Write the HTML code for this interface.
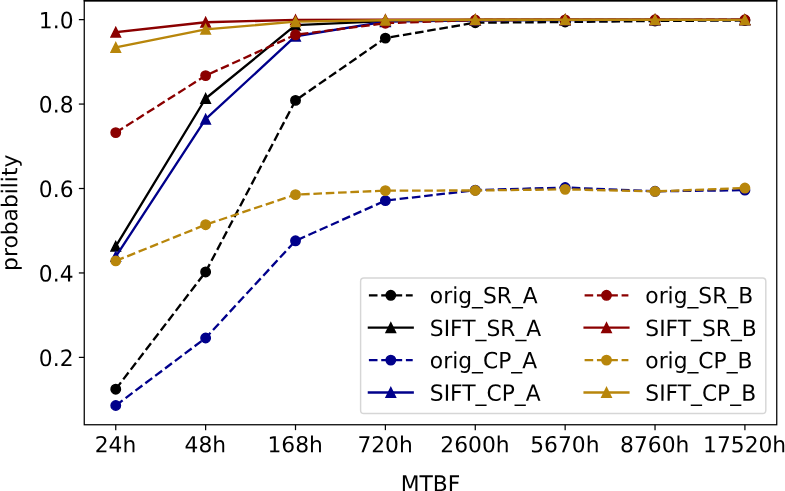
<!DOCTYPE html>
<html lang="en"><head><meta charset="utf-8"><title>MTBF probability chart</title>
<style>html,body{margin:0;padding:0;background:#fff}body{width:785px;height:491px;overflow:hidden}svg{display:block}text{font-family:"DejaVu Sans","Liberation Sans",sans-serif;font-size:21.8px;fill:#000}</style></head><body>
<svg width="785" height="491" viewBox="0 0 785 491">
<rect x="0" y="0" width="785" height="491" fill="#fff"/>
<defs><clipPath id="ax"><rect x="84.25" y="0.8" width="692.5" height="423.95"/></clipPath></defs>
<g clip-path="url(#ax)">
<path d="M115.75 389.19L205.63 271.97L295.51 100.39L385.39 38.09L475.27 22.68L565.15 22.01L655.03 20.95L744.91 20.44" fill="none" stroke="#000000" stroke-width="2.33" stroke-dasharray="8.605 3.725" stroke-linejoin="round" stroke-linecap="butt"/>
<circle cx="115.75" cy="389.19" r="4.67" fill="#000000" stroke="#000000" stroke-width="1.555"/>
<circle cx="205.63" cy="271.97" r="4.67" fill="#000000" stroke="#000000" stroke-width="1.555"/>
<circle cx="295.51" cy="100.39" r="4.67" fill="#000000" stroke="#000000" stroke-width="1.555"/>
<circle cx="385.39" cy="38.09" r="4.67" fill="#000000" stroke="#000000" stroke-width="1.555"/>
<circle cx="475.27" cy="22.68" r="4.67" fill="#000000" stroke="#000000" stroke-width="1.555"/>
<circle cx="565.15" cy="22.01" r="4.67" fill="#000000" stroke="#000000" stroke-width="1.555"/>
<circle cx="655.03" cy="20.95" r="4.67" fill="#000000" stroke="#000000" stroke-width="1.555"/>
<circle cx="744.91" cy="20.44" r="4.67" fill="#000000" stroke="#000000" stroke-width="1.555"/>
<path d="M115.75 246.39L205.63 98.49L295.51 25.21L385.39 21.08L475.27 20.02L565.15 19.90L655.03 19.85L744.91 19.81" fill="none" stroke="#000000" stroke-width="2.33" stroke-linejoin="round" stroke-linecap="square"/>
<path d="M115.75 241.72L111.08 251.06L120.42 251.06Z" fill="#000000" stroke="#000000" stroke-width="1.555" stroke-linejoin="miter"/>
<path d="M205.63 93.82L200.96 103.16L210.30 103.16Z" fill="#000000" stroke="#000000" stroke-width="1.555" stroke-linejoin="miter"/>
<path d="M295.51 20.54L290.84 29.88L300.18 29.88Z" fill="#000000" stroke="#000000" stroke-width="1.555" stroke-linejoin="miter"/>
<path d="M385.39 16.41L380.72 25.75L390.06 25.75Z" fill="#000000" stroke="#000000" stroke-width="1.555" stroke-linejoin="miter"/>
<path d="M475.27 15.35L470.60 24.69L479.94 24.69Z" fill="#000000" stroke="#000000" stroke-width="1.555" stroke-linejoin="miter"/>
<path d="M565.15 15.23L560.48 24.57L569.82 24.57Z" fill="#000000" stroke="#000000" stroke-width="1.555" stroke-linejoin="miter"/>
<path d="M655.03 15.18L650.36 24.52L659.70 24.52Z" fill="#000000" stroke="#000000" stroke-width="1.555" stroke-linejoin="miter"/>
<path d="M744.91 15.14L740.24 24.48L749.58 24.48Z" fill="#000000" stroke="#000000" stroke-width="1.555" stroke-linejoin="miter"/>
<path d="M115.75 405.48L205.63 337.99L295.51 240.82L385.39 200.60L475.27 190.21L565.15 187.51L655.03 191.31L744.91 190.13" fill="none" stroke="#00008b" stroke-width="2.33" stroke-dasharray="8.605 3.725" stroke-linejoin="round" stroke-linecap="butt"/>
<circle cx="115.75" cy="405.48" r="4.67" fill="#00008b" stroke="#00008b" stroke-width="1.555"/>
<circle cx="205.63" cy="337.99" r="4.67" fill="#00008b" stroke="#00008b" stroke-width="1.555"/>
<circle cx="295.51" cy="240.82" r="4.67" fill="#00008b" stroke="#00008b" stroke-width="1.555"/>
<circle cx="385.39" cy="200.60" r="4.67" fill="#00008b" stroke="#00008b" stroke-width="1.555"/>
<circle cx="475.27" cy="190.21" r="4.67" fill="#00008b" stroke="#00008b" stroke-width="1.555"/>
<circle cx="565.15" cy="187.51" r="4.67" fill="#00008b" stroke="#00008b" stroke-width="1.555"/>
<circle cx="655.03" cy="191.31" r="4.67" fill="#00008b" stroke="#00008b" stroke-width="1.555"/>
<circle cx="744.91" cy="190.13" r="4.67" fill="#00008b" stroke="#00008b" stroke-width="1.555"/>
<path d="M115.75 256.61L205.63 119.22L295.51 36.23L385.39 21.71L475.27 20.23L565.15 20.02L655.03 19.94L744.91 19.90" fill="none" stroke="#00008b" stroke-width="2.33" stroke-linejoin="round" stroke-linecap="square"/>
<path d="M115.75 251.94L111.08 261.28L120.42 261.28Z" fill="#00008b" stroke="#00008b" stroke-width="1.555" stroke-linejoin="miter"/>
<path d="M205.63 114.55L200.96 123.89L210.30 123.89Z" fill="#00008b" stroke="#00008b" stroke-width="1.555" stroke-linejoin="miter"/>
<path d="M295.51 31.56L290.84 40.90L300.18 40.90Z" fill="#00008b" stroke="#00008b" stroke-width="1.555" stroke-linejoin="miter"/>
<path d="M385.39 17.04L380.72 26.38L390.06 26.38Z" fill="#00008b" stroke="#00008b" stroke-width="1.555" stroke-linejoin="miter"/>
<path d="M475.27 15.56L470.60 24.90L479.94 24.90Z" fill="#00008b" stroke="#00008b" stroke-width="1.555" stroke-linejoin="miter"/>
<path d="M565.15 15.35L560.48 24.69L569.82 24.69Z" fill="#00008b" stroke="#00008b" stroke-width="1.555" stroke-linejoin="miter"/>
<path d="M655.03 15.27L650.36 24.61L659.70 24.61Z" fill="#00008b" stroke="#00008b" stroke-width="1.555" stroke-linejoin="miter"/>
<path d="M744.91 15.23L740.24 24.57L749.58 24.57Z" fill="#00008b" stroke="#00008b" stroke-width="1.555" stroke-linejoin="miter"/>
<path d="M115.75 132.60L205.63 75.61L295.51 34.80L385.39 23.19L475.27 20.02L565.15 19.90L655.03 19.81L744.91 19.77" fill="none" stroke="#8b0000" stroke-width="2.33" stroke-dasharray="8.605 3.725" stroke-linejoin="round" stroke-linecap="butt"/>
<circle cx="115.75" cy="132.60" r="4.67" fill="#8b0000" stroke="#8b0000" stroke-width="1.555"/>
<circle cx="205.63" cy="75.61" r="4.67" fill="#8b0000" stroke="#8b0000" stroke-width="1.555"/>
<circle cx="295.51" cy="34.80" r="4.67" fill="#8b0000" stroke="#8b0000" stroke-width="1.555"/>
<circle cx="385.39" cy="23.19" r="4.67" fill="#8b0000" stroke="#8b0000" stroke-width="1.555"/>
<circle cx="475.27" cy="20.02" r="4.67" fill="#8b0000" stroke="#8b0000" stroke-width="1.555"/>
<circle cx="565.15" cy="19.90" r="4.67" fill="#8b0000" stroke="#8b0000" stroke-width="1.555"/>
<circle cx="655.03" cy="19.81" r="4.67" fill="#8b0000" stroke="#8b0000" stroke-width="1.555"/>
<circle cx="744.91" cy="19.77" r="4.67" fill="#8b0000" stroke="#8b0000" stroke-width="1.555"/>
<path d="M115.75 32.26L205.63 22.22L295.51 19.90L385.39 19.77L475.27 19.77L565.15 19.77L655.03 19.77L744.91 19.81" fill="none" stroke="#8b0000" stroke-width="2.33" stroke-linejoin="round" stroke-linecap="square"/>
<path d="M115.75 27.59L111.08 36.93L120.42 36.93Z" fill="#8b0000" stroke="#8b0000" stroke-width="1.555" stroke-linejoin="miter"/>
<path d="M205.63 17.55L200.96 26.89L210.30 26.89Z" fill="#8b0000" stroke="#8b0000" stroke-width="1.555" stroke-linejoin="miter"/>
<path d="M295.51 15.23L290.84 24.57L300.18 24.57Z" fill="#8b0000" stroke="#8b0000" stroke-width="1.555" stroke-linejoin="miter"/>
<path d="M385.39 15.10L380.72 24.44L390.06 24.44Z" fill="#8b0000" stroke="#8b0000" stroke-width="1.555" stroke-linejoin="miter"/>
<path d="M475.27 15.10L470.60 24.44L479.94 24.44Z" fill="#8b0000" stroke="#8b0000" stroke-width="1.555" stroke-linejoin="miter"/>
<path d="M565.15 15.10L560.48 24.44L569.82 24.44Z" fill="#8b0000" stroke="#8b0000" stroke-width="1.555" stroke-linejoin="miter"/>
<path d="M655.03 15.10L650.36 24.44L659.70 24.44Z" fill="#8b0000" stroke="#8b0000" stroke-width="1.555" stroke-linejoin="miter"/>
<path d="M744.91 15.14L740.24 24.48L749.58 24.48Z" fill="#8b0000" stroke="#8b0000" stroke-width="1.555" stroke-linejoin="miter"/>
<path d="M115.75 260.91L205.63 224.70L295.51 194.60L385.39 190.59L475.27 190.51L565.15 189.33L655.03 191.39L744.91 188.06" fill="none" stroke="#b8860b" stroke-width="2.33" stroke-dasharray="8.605 3.725" stroke-linejoin="round" stroke-linecap="butt"/>
<circle cx="115.75" cy="260.91" r="4.67" fill="#b8860b" stroke="#b8860b" stroke-width="1.555"/>
<circle cx="205.63" cy="224.70" r="4.67" fill="#b8860b" stroke="#b8860b" stroke-width="1.555"/>
<circle cx="295.51" cy="194.60" r="4.67" fill="#b8860b" stroke="#b8860b" stroke-width="1.555"/>
<circle cx="385.39" cy="190.59" r="4.67" fill="#b8860b" stroke="#b8860b" stroke-width="1.555"/>
<circle cx="475.27" cy="190.51" r="4.67" fill="#b8860b" stroke="#b8860b" stroke-width="1.555"/>
<circle cx="565.15" cy="189.33" r="4.67" fill="#b8860b" stroke="#b8860b" stroke-width="1.555"/>
<circle cx="655.03" cy="191.39" r="4.67" fill="#b8860b" stroke="#b8860b" stroke-width="1.555"/>
<circle cx="744.91" cy="188.06" r="4.67" fill="#b8860b" stroke="#b8860b" stroke-width="1.555"/>
<path d="M115.75 47.46L205.63 29.31L295.51 21.71L385.39 20.28L475.27 19.77L565.15 19.77L655.03 19.77L744.91 19.81" fill="none" stroke="#b8860b" stroke-width="2.33" stroke-linejoin="round" stroke-linecap="square"/>
<path d="M115.75 42.79L111.08 52.13L120.42 52.13Z" fill="#b8860b" stroke="#b8860b" stroke-width="1.555" stroke-linejoin="miter"/>
<path d="M205.63 24.64L200.96 33.98L210.30 33.98Z" fill="#b8860b" stroke="#b8860b" stroke-width="1.555" stroke-linejoin="miter"/>
<path d="M295.51 17.04L290.84 26.38L300.18 26.38Z" fill="#b8860b" stroke="#b8860b" stroke-width="1.555" stroke-linejoin="miter"/>
<path d="M385.39 15.61L380.72 24.95L390.06 24.95Z" fill="#b8860b" stroke="#b8860b" stroke-width="1.555" stroke-linejoin="miter"/>
<path d="M475.27 15.10L470.60 24.44L479.94 24.44Z" fill="#b8860b" stroke="#b8860b" stroke-width="1.555" stroke-linejoin="miter"/>
<path d="M565.15 15.10L560.48 24.44L569.82 24.44Z" fill="#b8860b" stroke="#b8860b" stroke-width="1.555" stroke-linejoin="miter"/>
<path d="M655.03 15.10L650.36 24.44L659.70 24.44Z" fill="#b8860b" stroke="#b8860b" stroke-width="1.555" stroke-linejoin="miter"/>
<path d="M744.91 15.14L740.24 24.48L749.58 24.48Z" fill="#b8860b" stroke="#b8860b" stroke-width="1.555" stroke-linejoin="miter"/>
</g>
<line x1="115.75" y1="424.75" x2="115.75" y2="430.15" stroke="#000" stroke-width="1.25"/>
<text transform="translate(115.45 452.2) rotate(0.03) scale(1 1.012)" text-anchor="middle">24h</text>
<line x1="205.63" y1="424.75" x2="205.63" y2="430.15" stroke="#000" stroke-width="1.25"/>
<text transform="translate(205.33 452.2) rotate(0.03) scale(1 1.012)" text-anchor="middle">48h</text>
<line x1="295.51" y1="424.75" x2="295.51" y2="430.15" stroke="#000" stroke-width="1.25"/>
<text transform="translate(295.21 452.2) rotate(0.03) scale(1 1.012)" text-anchor="middle">168h</text>
<line x1="385.39" y1="424.75" x2="385.39" y2="430.15" stroke="#000" stroke-width="1.25"/>
<text transform="translate(385.09 452.2) rotate(0.03) scale(1 1.012)" text-anchor="middle">720h</text>
<line x1="475.27" y1="424.75" x2="475.27" y2="430.15" stroke="#000" stroke-width="1.25"/>
<text transform="translate(474.97 452.2) rotate(0.03) scale(1 1.012)" text-anchor="middle">2600h</text>
<line x1="565.15" y1="424.75" x2="565.15" y2="430.15" stroke="#000" stroke-width="1.25"/>
<text transform="translate(564.85 452.2) rotate(0.03) scale(1 1.012)" text-anchor="middle">5670h</text>
<line x1="655.03" y1="424.75" x2="655.03" y2="430.15" stroke="#000" stroke-width="1.25"/>
<text transform="translate(654.73 452.2) rotate(0.03) scale(1 1.012)" text-anchor="middle">8760h</text>
<line x1="744.91" y1="424.75" x2="744.91" y2="430.15" stroke="#000" stroke-width="1.25"/>
<text transform="translate(744.61 452.2) rotate(0.03) scale(1 1.012)" text-anchor="middle">17520h</text>
<line x1="78.85" y1="357.39" x2="84.25" y2="357.39" stroke="#000" stroke-width="1.25"/>
<text transform="translate(73.5 365.94) rotate(0.03) scale(1 1.03)" text-anchor="end">0.2</text>
<line x1="78.85" y1="272.95" x2="84.25" y2="272.95" stroke="#000" stroke-width="1.25"/>
<text transform="translate(73.5 281.50) rotate(0.03) scale(1 1.03)" text-anchor="end">0.4</text>
<line x1="78.85" y1="188.51" x2="84.25" y2="188.51" stroke="#000" stroke-width="1.25"/>
<text transform="translate(73.5 197.06) rotate(0.03) scale(1 1.03)" text-anchor="end">0.6</text>
<line x1="78.85" y1="104.07" x2="84.25" y2="104.07" stroke="#000" stroke-width="1.25"/>
<text transform="translate(73.5 112.62) rotate(0.03) scale(1 1.03)" text-anchor="end">0.8</text>
<line x1="78.85" y1="19.63" x2="84.25" y2="19.63" stroke="#000" stroke-width="1.25"/>
<text transform="translate(73.5 28.18) rotate(0.03) scale(1 1.03)" text-anchor="end">1.0</text>
<rect x="84.25" y="0.8" width="692.5" height="423.95" fill="none" stroke="#000" stroke-width="1.25" stroke-linejoin="miter"/>
<rect x="83.625" y="0" width="693.75" height="1.4" fill="#000"/>
<text transform="translate(430.50 491.3) rotate(0.03)" text-anchor="middle">MTBF</text>
<text transform="translate(17.2 212.78) rotate(-90.03)" text-anchor="middle">probability</text>
<rect x="360.6" y="277.9" width="405.19999999999993" height="135.70000000000005" rx="3.3" ry="3.3" fill="#fff" fill-opacity="0.8" stroke="#cccccc" stroke-opacity="0.8" stroke-width="1.45"/>
<path d="M368.9 295.3L412.7 295.3" fill="none" stroke="#000000" stroke-width="2.33" stroke-dasharray="8.605 3.725"/>
<circle cx="390.80" cy="295.30" r="4.67" fill="#000000" stroke="#000000" stroke-width="1.555"/>
<text transform="translate(429.85 303.30) rotate(0.03) scale(1 1.025)">orig_SR_A</text>
<path d="M368.9 327.7L412.7 327.7" fill="none" stroke="#000000" stroke-width="2.33" stroke-linecap="square"/>
<path d="M390.80 323.03L386.13 332.37L395.47 332.37Z" fill="#000000" stroke="#000000" stroke-width="1.555" stroke-linejoin="miter"/>
<text transform="translate(429.85 336.00) rotate(0.03) scale(1 1.025)">SIFT_SR_A</text>
<path d="M368.9 360.1L412.7 360.1" fill="none" stroke="#00008b" stroke-width="2.33" stroke-dasharray="8.605 3.725"/>
<circle cx="390.80" cy="360.10" r="4.67" fill="#00008b" stroke="#00008b" stroke-width="1.555"/>
<text transform="translate(429.85 368.30) rotate(0.03) scale(1 1.025)">orig_CP_A</text>
<path d="M368.9 392.5L412.7 392.5" fill="none" stroke="#00008b" stroke-width="2.33" stroke-linecap="square"/>
<path d="M390.80 387.83L386.13 397.17L395.47 397.17Z" fill="#00008b" stroke="#00008b" stroke-width="1.555" stroke-linejoin="miter"/>
<text transform="translate(429.85 400.70) rotate(0.03) scale(1 1.025)">SIFT_CP_A</text>
<path d="M584.6 295.3L628.4 295.3" fill="none" stroke="#8b0000" stroke-width="2.33" stroke-dasharray="8.605 3.725"/>
<circle cx="606.50" cy="295.30" r="4.67" fill="#8b0000" stroke="#8b0000" stroke-width="1.555"/>
<text transform="translate(645.3 303.30) rotate(0.03) scale(1 1.025)">orig_SR_B</text>
<path d="M584.6 327.7L628.4 327.7" fill="none" stroke="#8b0000" stroke-width="2.33" stroke-linecap="square"/>
<path d="M606.50 323.03L601.83 332.37L611.17 332.37Z" fill="#8b0000" stroke="#8b0000" stroke-width="1.555" stroke-linejoin="miter"/>
<text transform="translate(645.3 336.00) rotate(0.03) scale(1 1.025)">SIFT_SR_B</text>
<path d="M584.6 360.1L628.4 360.1" fill="none" stroke="#b8860b" stroke-width="2.33" stroke-dasharray="8.605 3.725"/>
<circle cx="606.50" cy="360.10" r="4.67" fill="#b8860b" stroke="#b8860b" stroke-width="1.555"/>
<text transform="translate(645.3 368.30) rotate(0.03) scale(1 1.025)">orig_CP_B</text>
<path d="M584.6 392.5L628.4 392.5" fill="none" stroke="#b8860b" stroke-width="2.33" stroke-linecap="square"/>
<path d="M606.50 387.83L601.83 397.17L611.17 397.17Z" fill="#b8860b" stroke="#b8860b" stroke-width="1.555" stroke-linejoin="miter"/>
<text transform="translate(645.3 400.70) rotate(0.03) scale(1 1.025)">SIFT_CP_B</text>
</svg></body></html>
